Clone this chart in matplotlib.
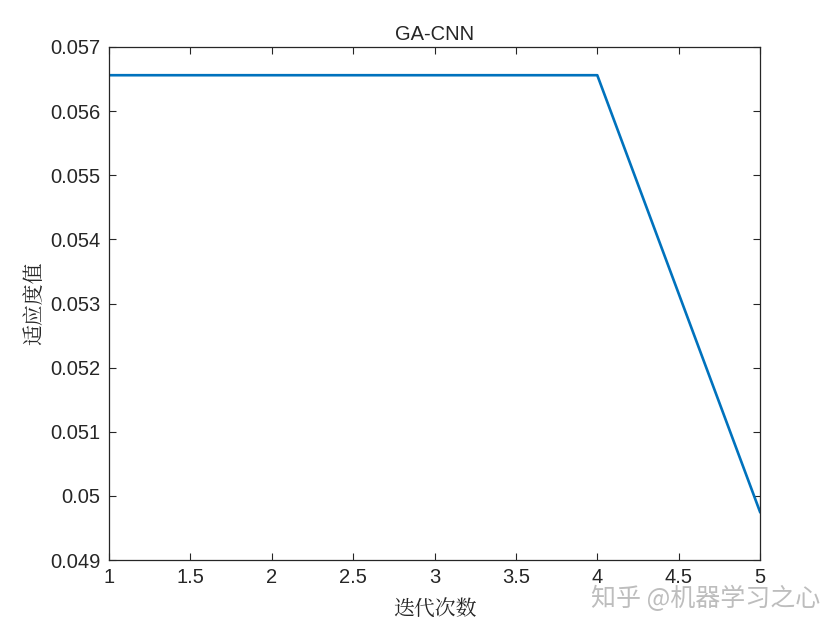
import numpy as np
import matplotlib.pyplot as plt

plt.rcParams['font.family'] = ['Liberation Sans', 'Noto Sans CJK SC', 'DejaVu Sans']

# fitness per iteration
iters = [1, 2, 3, 4, 5]
fitness = [0.05656, 0.05656, 0.05656, 0.05656, 0.04975]

xticks = [1, 1.5, 2, 2.5, 3, 3.5, 4, 4.5, 5]
xticklabels = ['1', '1.5', '2', '2.5', '3', '3.5', '4', '4.5', '5']
yticks = [0.049, 0.050, 0.051, 0.052, 0.053, 0.054, 0.055, 0.056, 0.057]
yticklabels = ['0.049', '0.05', '0.051', '0.052', '0.053', '0.054', '0.055', '0.056', '0.057']

fig = plt.figure(figsize=(8.4, 6.3), dpi=100)
ax = fig.add_axes([0.1298, 0.1111, 0.7750, 0.8143])
ax.plot(iters, fitness, color='#0072BD', linewidth=1.9)

ax.set_xlim(1, 5)
ax.set_ylim(0.049, 0.057)
ax.set_xticks(xticks)
ax.set_xticklabels(xticklabels)
ax.set_yticks(yticks)
ax.set_yticklabels(yticklabels)
ax.tick_params(direction='in', top=True, right=True, labelsize=14.5, length=5,
               width=0.8, colors='#262626', pad=6)
for s in ax.spines.values():
    s.set_color('#262626')
    s.set_linewidth(0.9)

ax.set_title('GA-CNN', fontsize=14.5, color='#262626', pad=5)
ax.set_xlabel('迭代次数', fontsize=15, family=['Noto Serif CJK SC', 'Noto Sans CJK SC', 'DejaVu Sans'],
              color='#262626', labelpad=8)
ax.set_ylabel('适应度值', fontsize=15, family=['Noto Serif CJK SC', 'Noto Sans CJK SC', 'DejaVu Sans'],
              color='#262626', labelpad=4)

# watermark
fig.text(0.976, 0.05, '知乎 @机器学习之心', fontsize=18, color='#bdbdbd',
         ha='right', va='center', family=['Noto Sans CJK SC', 'DejaVu Sans'])

fig.savefig('out.png', dpi=100, facecolor='white')
